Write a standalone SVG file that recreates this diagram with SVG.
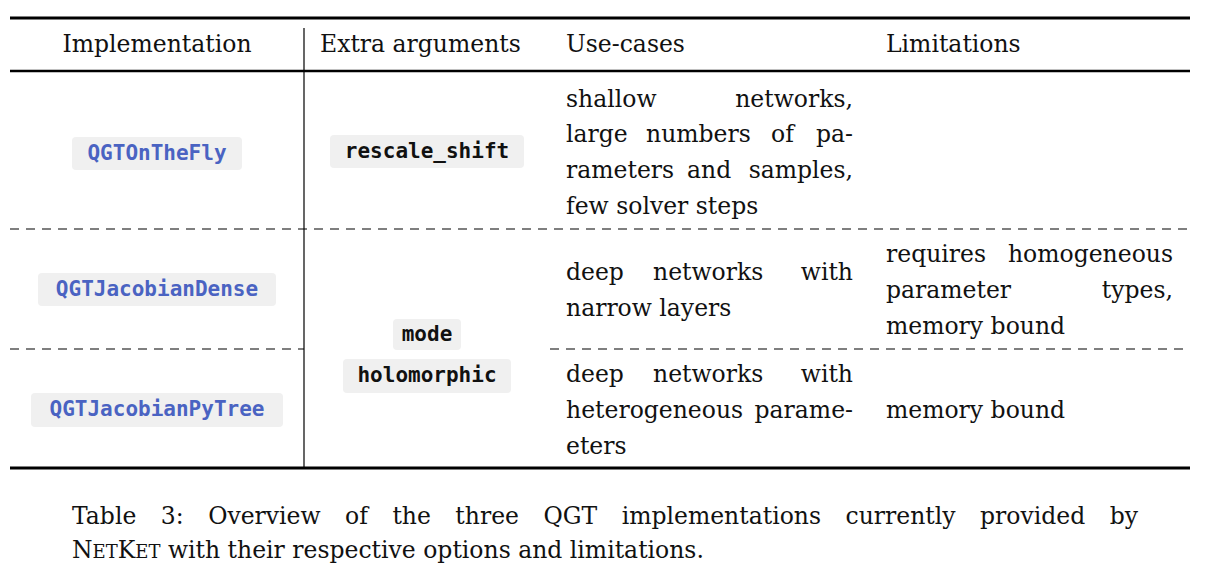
<svg xmlns="http://www.w3.org/2000/svg" width="1210" height="582" viewBox="0 0 1210 582">
<style>
.t{font-family:"DejaVu Serif","Liberation Serif",serif;font-size:23.5px;fill:#111}
.c{font-family:"DejaVu Sans Mono","Liberation Mono",monospace;font-weight:bold;font-size:21px}
.b{fill:#f0f0f0}
.blue{fill:#4a63c2}
.k{fill:#111}
.r{stroke:#000}
.d{stroke:#000;stroke-width:1.2;stroke-dasharray:9,7}
</style>
<rect width="1210" height="582" fill="#fff"/>
<g id="rules">
<line class="r" x1="10" y1="18" x2="1190" y2="18" stroke-width="3"/>
<line class="r" x1="10" y1="71" x2="1190" y2="71" stroke-width="2.5"/>
<line class="r" x1="10" y1="468" x2="1190" y2="468" stroke-width="3"/>
<line class="r" x1="304" y1="28" x2="304" y2="468" stroke-width="1.2"/>
<line class="d" x1="10" y1="229" x2="1190" y2="229"/>
<line class="d" x1="10" y1="349" x2="304" y2="349"/>
<line class="d" x1="550" y1="349" x2="1190" y2="349"/>
</g>
<g id="header" class="t">
<text x="157" y="52" text-anchor="middle">Implementation</text>
<text x="320" y="52">Extra arguments</text>
<text x="566" y="52">Use-cases</text>
<text x="886" y="52">Limitations</text>
</g>
<g id="impl">
<rect class="b" x="72" y="137" width="170" height="33" rx="4"/>
<text class="c blue" x="157" y="160" text-anchor="middle">QGTOnTheFly</text>
<rect class="b" x="38" y="273" width="238" height="33" rx="4"/>
<text class="c blue" x="157" y="296" text-anchor="middle">QGTJacobianDense</text>
<rect class="b" x="31" y="393" width="252" height="34" rx="4"/>
<text class="c blue" x="157" y="416" text-anchor="middle">QGTJacobianPyTree</text>
</g>
<g id="args">
<rect class="b" x="330" y="135" width="194" height="33" rx="4"/>
<text class="c k" x="427" y="158" text-anchor="middle">rescale_shift</text>
<rect class="b" x="393" y="319" width="68" height="31" rx="4"/>
<text class="c k" x="427" y="341" text-anchor="middle">mode</text>
<rect class="b" x="343" y="359" width="168" height="34" rx="4"/>
<text class="c k" x="427" y="382" text-anchor="middle">holomorphic</text>
</g>
<g id="usecases" class="t">
<text x="566" y="107">shallow</text><text x="853" y="107" text-anchor="end">networks,</text>
<text x="566" y="142">large</text><text x="646" y="142">numbers</text><text x="771" y="142">of</text><text x="853" y="142" text-anchor="end">pa-</text>
<text x="566" y="178">rameters</text><text x="687" y="178">and</text><text x="853" y="178" text-anchor="end">samples,</text>
<text x="566" y="214">few solver steps</text>
<text x="566" y="280">deep</text><text x="653" y="280">networks</text><text x="853" y="280" text-anchor="end">with</text>
<text x="566" y="316">narrow layers</text>
<text x="566" y="382">deep</text><text x="653" y="382">networks</text><text x="853" y="382" text-anchor="end">with</text>
<text x="566" y="418">heterogeneous</text><text x="853" y="418" text-anchor="end">parame-</text>
<text x="566" y="454">eters</text>
</g>
<g id="limits" class="t">
<text x="886" y="262">requires</text><text x="1173" y="262" text-anchor="end">homogeneous</text>
<text x="886" y="298">parameter</text><text x="1173" y="298" text-anchor="end">types,</text>
<text x="886" y="334">memory bound</text>
<text x="886" y="418">memory bound</text>
</g>
<g id="caption" class="t">
<text x="72" y="524" word-spacing="17">Table 3: Overview of the three QGT implementations currently provided by</text>
<text x="72" y="558">N<tspan font-size="18">ET</tspan>K<tspan font-size="18">ET</tspan> with their respective options and limitations.</text>
</g>
</svg>
